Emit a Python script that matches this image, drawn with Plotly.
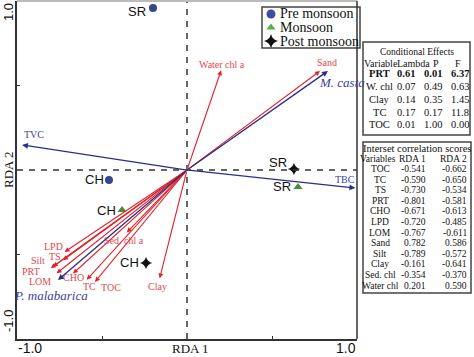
import plotly.graph_objects as go

W, H = 474, 357
L, R, T, B = 17, 117, 1, 18
PW = W - L - R
PH = H - T - B


def px(xp):
    return (xp - L) / PW


def py(yp):
    return (H - B - yp) / PH


# ---------------- data ----------------
# environmental variables (interset correlation scores)
env_vars = ["TOC", "TC", "TS", "PRT", "CHO", "LPD", "LOM", "Sand", "Silt", "Clay", "Sed. chl", "Water chl"]
env_labels = ["TOC", "TC", "TS", "PRT", "CHO", "LPD", "LOM", "Sand", "Silt", "Clay", "Sed. chl a", "Water chl a"]
rda1 = [-0.541, -0.590, -0.730, -0.801, -0.671, -0.720, -0.767, 0.782, -0.789, -0.161, -0.354, 0.201]
rda2 = [-0.662, -0.650, -0.534, -0.581, -0.613, -0.485, -0.611, 0.586, -0.572, -0.641, -0.370, 0.590]

# biotic vectors
bio_names = ["TVC", "TBC", "M. casta", "P. malabarica"]
bio_rda1 = [-0.970, 0.990, 0.829, -0.759]
bio_rda2 = [0.148, -0.107, 0.586, -0.651]

# sites by season
seasons = ["Pre monsoon", "Monsoon", "Post monsoon"]
pre_sites = ["SR", "CH"]
pre_x = [-0.200, -0.459]
pre_y = [0.959, -0.059]
mon_sites = ["CH", "SR"]
mon_x = [-0.382, 0.653]
mon_y = [-0.237, -0.100]
post_sites = ["CH", "SR"]
post_x = [-0.241, 0.629]
post_y = [-0.550, 0.006]

# conditional effects table
cond_vars = ["PRT", "W. chl", "Clay", "TC", "TOC"]
cond_lambda = [0.61, 0.07, 0.14, 0.17, 0.01]
cond_p = [0.01, 0.49, 0.35, 0.17, 1.00]
cond_f = [6.37, 0.63, 1.45, 11.8, 0.00]

# ---------------- styles ----------------
RED = "#e3232b"
RED_T = "#e5474e"
BLUE = "#2b2f83"
BLUE_T = "#3b3f9c"
SERIF = "Liberation Serif"
SANS = "Liberation Sans"
season_style = [
    dict(symbol="circle", size=8, color="#34468c"),
    dict(symbol="triangle-up", size=8, color="#4f8a3c"),
    dict(symbol="star-diamond", size=9, color="#111111"),
]
legend_marker = [
    dict(symbol="circle", size=9, color="#3d4f9a"),
    dict(symbol="triangle-up", size=8, color="#5cae4c"),
    dict(symbol="star-diamond", size=10, color="#111111"),
]

# label offsets (xanchor, xshift, yshift) per env variable
env_lab_style = {
    "TOC": ("left", 4, -6),
    "TC": ("center", 3, -7),
    "TS": ("right", 0, 4),
    "PRT": ("right", -9, -3),
    "CHO": ("center", 1, -4),
    "LPD": ("right", 0, 5),
    "LOM": ("right", -4, -8),
    "Sand": ("center", 7, 8),
    "Silt": ("right", -6, 6),
    "Clay": ("center", -2, -8),
    "Sed. chl": ("center", -3, -8),
    "Water chl": ("center", 1, 6),
}
bio_lab_style = {
    "TVC": ("left", 0, 10, False),
    "TBC": ("right", 2, 9, False),
    "M. casta": ("left", -11, -12, True),
    "P. malabarica": ("center", -7, -15, True),
}

fig = go.Figure()

for name, xs_, ys_, st in zip(seasons, [pre_x, mon_x, post_x], [pre_y, mon_y, post_y], season_style):
    fig.add_trace(go.Scatter(x=xs_, y=ys_, mode="markers", name=name, marker=st, showlegend=False))

# legend (drawn in a paper-aligned overlay axis)
leg_y = [14, 27.5, 41]
for name, st, ly in zip(seasons, legend_marker, leg_y):
    fig.add_trace(go.Scatter(x=[px(271)], y=[py(ly)], xaxis="x2", yaxis="y2", mode="markers",
                             marker=st, name=name, showlegend=False, cliponaxis=False,
                             hoverinfo="skip"))

ann = []
# env arrows
for v, lab, x, y in zip(env_vars, env_labels, rda1, rda2):
    ann.append(dict(x=x, y=y, ax=0, ay=0, xref="x", yref="y", axref="x", ayref="y",
                    text="", showarrow=True, arrowhead=2, arrowsize=0.9, arrowwidth=1.1,
                    arrowcolor=RED, standoff=0))
    xa, xs, ys = env_lab_style[v]
    ann.append(dict(x=x, y=y, xref="x", yref="y", text=lab, showarrow=False,
                    xanchor=xa, yanchor="middle", xshift=xs, yshift=ys,
                    font=dict(family=SERIF, size=10, color=RED_T)))
# bio arrows
for n, x, y in zip(bio_names, bio_rda1, bio_rda2):
    ann.append(dict(x=x, y=y, ax=0, ay=0, xref="x", yref="y", axref="x", ayref="y",
                    text="", showarrow=True, arrowhead=2, arrowsize=0.9, arrowwidth=1.3,
                    arrowcolor=BLUE, standoff=0))
    xa, xs, ys, it = bio_lab_style[n]
    ann.append(dict(x=x, y=y, xref="x", yref="y", text=(f"<i>{n}</i>" if it else n),
                    showarrow=False, xanchor=xa, yanchor="middle", xshift=xs, yshift=ys,
                    font=dict(family=SERIF, size=13 if it else 10, color=BLUE_T)))

# site labels
site_shift = {("SR", "pre"): (-5, -4), ("CH", "pre"): (-3, 0), ("CH", "mon"): (-4, 0),
              ("SR", "mon"): (-5, 0), ("CH", "post"): (-5, 0), ("SR", "post"): (-5, 6)}
for season, names, xs_, ys_ in [("pre", pre_sites, pre_x, pre_y), ("mon", mon_sites, mon_x, mon_y),
                                ("post", post_sites, post_x, post_y)]:
    for n, x, y in zip(names, xs_, ys_):
        dx, dy = site_shift[(n, season)]
        ann.append(dict(x=x, y=y, xref="x", yref="y", text=n, showarrow=False,
                        xanchor="right", yanchor="middle", xshift=dx, yshift=dy,
                        font=dict(family=SANS, size=13, color="#111111")))


def pann(text, xp, yp, size, fam, angle=0, xa="center", color="#111111"):
    ann.append(dict(x=px(xp), y=py(yp), xref="paper", yref="paper", text=text, showarrow=False,
                    xanchor=xa, yanchor="middle", textangle=angle,
                    font=dict(family=fam, size=size, color=color)))


# axis labels
pann("-1.0", 30, 348, 14, SANS)
pann("RDA 1", 190, 348, 13, SERIF)
pann("1.0", 346, 348, 14, SANS)
pann("1.0", 8, 12, 13, SANS, angle=-90)
pann("RDA 2", 8, 170, 13, SERIF, angle=-90)
pann("-1.0", 8, 321, 13, SANS, angle=-90)

# legend texts
for name, ly in zip(seasons, leg_y):
    pann(name, 278, ly, 14, SERIF, xa="left")

shapes = []
# dashed zero lines
shapes.append(dict(type="line", xref="x", yref="y", x0=0, x1=0, y0=-1, y1=1,
                   line=dict(color="#333333", width=1.5, dash="6px,6px")))
shapes.append(dict(type="line", xref="x", yref="y", x0=-1, x1=1, y0=0, y1=0,
                   line=dict(color="#333333", width=1.5, dash="6px,6px")))
# top frame line
shapes.append(dict(type="line", xref="paper", yref="paper", x0=0, x1=1, y0=1, y1=1,
                   line=dict(color="#bbbbbb", width=2)))
# right frame line
shapes.append(dict(type="line", xref="paper", yref="paper", x0=1, x1=1, y0=0, y1=1,
                   line=dict(color="#333333", width=1.5)))
# legend box
shapes.append(dict(type="rect", xref="paper", yref="paper", x0=px(262), x1=px(360), y0=py(48), y1=py(7),
                   line=dict(color="#444444", width=1.5), fillcolor="white", layer="below"))

# ---- conditional effects table ----
shapes.append(dict(type="rect", xref="paper", yref="paper", x0=px(363), x1=px(470), y0=py(135), y1=py(42),
                   line=dict(color="#444444", width=1.5), fillcolor="rgba(0,0,0,0)"))
TS_ = 10.5
pann("Conditional Effects", 417, 52, 9.5, SERIF)
for t, xp in zip(["Variable", "Lambda", "P", "F"], [381, 413, 436, 458]):
    pann(t, xp, 63, 10, SERIF)
row_y = [73.5, 86.5, 99.5, 112, 124.5]
for i, (v, lam, p, f) in enumerate(zip(cond_vars, cond_lambda, cond_p, cond_f)):
    fs = f"{f:.1f}" if f >= 10 else f"{f:.2f}"
    cells = [v, f"{lam:.2f}", f"{p:.2f}", fs]
    if i == 0:
        cells = [f"<b>{c}</b>" for c in cells]
    for c, xp in zip(cells, [379, 406, 433, 460]):
        pann(c, xp, row_y[i], TS_, SERIF)

# ---- interset correlation table ----
shapes.append(dict(type="rect", xref="paper", yref="paper", x0=px(363), x1=px(471), y0=py(293), y1=py(142),
                   line=dict(color="#444444", width=1.5), fillcolor="rgba(0,0,0,0)"))
IS = 9.5
pann("Interset correlation scores", 417, 148, 10.5, SERIF)
pann("Variables", 378, 158.5, IS, SERIF)
pann("RDA 1", 428, 158.5, IS, SERIF, xa="right")
pann("RDA 2", 469, 158.5, IS, SERIF, xa="right")
for i, (v, a, b) in enumerate(zip(env_vars, rda1, rda2)):
    yp = 169 + i * 10.6
    pann(v, 380, yp, IS, SERIF)
    pann(f"{a:.3f}", 428, yp, IS, SERIF, xa="right")
    pann(f"{b:.3f}", 469, yp, IS, SERIF, xa="right")

fig.update_layout(
    width=W, height=H, margin=dict(l=L, r=R, t=T, b=B),
    plot_bgcolor="white", paper_bgcolor="white",
    annotations=ann, shapes=shapes,
    showlegend=False,
    xaxis2=dict(overlaying="x", range=[0, 1], visible=False, fixedrange=True),
    yaxis2=dict(overlaying="y", range=[0, 1], visible=False, fixedrange=True),
)
fig.layout.xaxis.update(range=[-1, 1], showgrid=False, zeroline=False, showline=True, linecolor="#333333",
                        linewidth=2, mirror=False, tickvals=[-0.5, 0.5], ticks="inside",
                        ticklen=3, tickcolor="#333333", showticklabels=False)
fig.layout.yaxis.update(range=[-1, 1], showgrid=False, zeroline=False, showline=True, linecolor="#333333",
                        linewidth=2, mirror=False, tickvals=[-0.5, 0.5], ticks="inside",
                        ticklen=3, tickcolor="#333333", showticklabels=False)

fig.write_html("out.html", config={"displayModeBar": False},
               post_script="document.body.style.margin='0';document.body.style.overflow='hidden';")
